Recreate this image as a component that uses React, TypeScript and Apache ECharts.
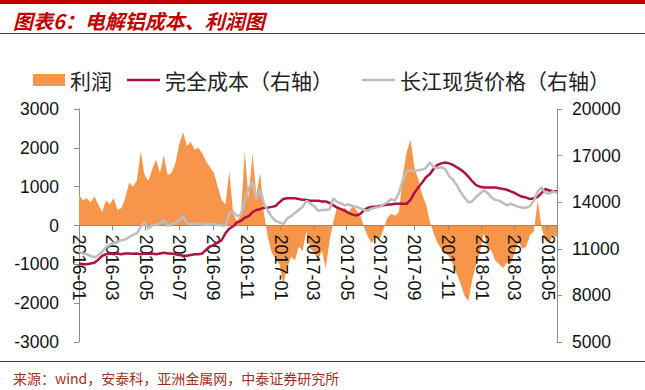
import React, { useEffect, useRef } from 'react';
import * as echarts from 'echarts';

const dates = [
  '2016-01-01','2016-01-08','2016-01-15','2016-01-22','2016-01-29','2016-02-05','2016-02-12','2016-02-19','2016-02-26',
  '2016-03-04','2016-03-11','2016-03-18','2016-03-25','2016-04-01','2016-04-08','2016-04-15','2016-04-22','2016-04-29',
  '2016-05-06','2016-05-13','2016-05-20','2016-05-27','2016-06-03','2016-06-10','2016-06-17','2016-06-24',
  '2016-07-01','2016-07-08','2016-07-15','2016-07-22','2016-07-29','2016-08-05','2016-08-12','2016-08-19','2016-08-26',
  '2016-09-02','2016-09-09','2016-09-16','2016-09-23','2016-09-30','2016-10-07','2016-10-14','2016-10-21','2016-10-28',
  '2016-11-04','2016-11-11','2016-11-18','2016-11-25','2016-12-02','2016-12-09','2016-12-16','2016-12-23','2016-12-30',
  '2017-01-06','2017-01-13','2017-01-20','2017-01-27','2017-02-03','2017-02-10','2017-02-17','2017-02-24',
  '2017-03-03','2017-03-10','2017-03-17','2017-03-24','2017-03-31','2017-04-07','2017-04-14','2017-04-21','2017-04-28',
  '2017-05-05','2017-05-12','2017-05-19','2017-05-26','2017-06-02','2017-06-09','2017-06-16','2017-06-23','2017-06-30',
  '2017-07-07','2017-07-14','2017-07-21','2017-07-28','2017-08-04','2017-08-11','2017-08-18','2017-08-25',
  '2017-09-01','2017-09-08','2017-09-15','2017-09-22','2017-09-29','2017-10-06','2017-10-13','2017-10-20','2017-10-27',
  '2017-11-03','2017-11-10','2017-11-17','2017-11-24','2017-12-01','2017-12-08','2017-12-15','2017-12-22','2017-12-29',
  '2018-01-05','2018-01-12','2018-01-19','2018-01-26','2018-02-02','2018-02-09','2018-02-16','2018-02-23',
  '2018-03-02','2018-03-09','2018-03-16','2018-03-23','2018-03-30','2018-04-06','2018-04-13','2018-04-20','2018-04-27',
  '2018-05-04','2018-05-11','2018-05-18'
];

// 利润 (left axis)
const profit = [
  800, 650, 700, 600, 750, 550, 350, 650, 550, 700,
  400, 450, 700, 1100, 1000, 1150, 1900, 1300, 1150, 1450,
  1700, 1350, 1800, 1300, 1350, 1600, 2100, 2400, 2050, 2150,
  1950, 2000, 1850, 1650, 1500, 1350, 1000, 650, 550, 1400,
  300, 100, 300, 1900, 700, 1850, 800, 1350, 300, -300,
  -700, -850, -1000, -1500, -1100, -800, -900, -550, -650, -150,
  -600, -700, -900, -650, -1100, -400, 100, 500, 400, 450,
  350, 500, 400, 250, -50, -300, -450, -250, -350, -100,
  200, 300, 250, 350, 1300, 1900, 2200, 1500, 1200, 800,
  550, 100, -200, -450, -600, -700, -800, -1000, -1250, -1500,
  -1800, -1950, -1400, -1000, -700, -200, -600, -650, -900, -1000,
  -1100, -950, -1000, -700, -400, -600, -550, -250, -150, 650,
  -50, -400, -450, -250, -300
];

// 完全成本 (right axis)
const cost = [
  10050, 10000, 10000, 10050, 10100, 10300, 10550, 10650, 10700, 10650,
  10700, 10650, 10700, 10700, 10680, 10700, 10650, 10700, 10680, 10700,
  10650, 10700, 10750, 10700, 10700, 10650, 10600, 10550, 10550, 10600,
  10650, 10650, 10700, 10950, 11150, 11250, 11400, 11550, 12000, 12300,
  12450, 12700, 12800, 13000, 13100, 13350, 13500, 13550, 13650, 13650,
  13700, 13750, 14000, 14200, 14250, 14250, 14250, 14200, 14150, 14150,
  14100, 14100, 14100, 14050, 14050, 13950, 13800, 13650, 13550, 13450,
  13300, 13200, 13150, 13250, 13500, 13650, 13700, 13700, 13750, 13800,
  13850, 13850, 13900, 13900, 13900, 13900, 14150, 14600, 14950, 15250,
  15600, 15800, 16150, 16400, 16500, 16550, 16500, 16400, 16250, 16100,
  15900, 15650, 15350, 15100, 15000, 14950, 14950, 14950, 14950, 14900,
  14850, 14800, 14700, 14600, 14450, 14350, 14300, 14200, 14250, 14350,
  14600, 14850, 14750, 14700, 14700
];

// 长江现货价格 (right axis)
const price = [
  10800, 10700, 10650, 10550, 10450, 10600, 10800, 11100, 11250, 11400,
  11450, 11550, 11600, 11750, 11900, 12000, 12400, 12700, 12300, 12500,
  12550, 12600, 12850, 12450, 12600, 12650, 12850, 13100, 12650, 12600,
  12600, 12650, 12600, 12550, 12600, 12600, 12550, 12500, 12500, 13300,
  13400, 13100, 13200, 14100, 14900, 15300, 14200, 14850, 13900, 13450,
  13050, 12800, 12700, 12600, 12950, 13100, 13300, 13500, 13700, 14100,
  13900, 13750, 13450, 13500, 13500, 13550, 14250, 14000, 13900, 13800,
  13850, 13750, 13700, 13600, 13500, 13450, 13600, 13650, 13700, 13850,
  14000, 14200, 14100, 14600, 15400, 16000, 16050, 16000, 16050, 16100,
  16200, 16550, 16250, 16200, 16250, 16150, 15700, 15450, 15100, 14650,
  14300, 14000, 14050, 14350, 14550, 14750, 14600, 14300, 14150, 14100,
  13950, 13800, 13900, 13800, 13700, 13650, 13650, 13750, 14100, 14700,
  14950, 14600, 14550, 14700, 14600
];

const xTickLabels = [
  '2016-01', '2016-03', '2016-05', '2016-07', '2016-09', '2016-11',
  '2017-01', '2017-03', '2017-05', '2017-07', '2017-09', '2017-11',
  '2018-01', '2018-03', '2018-05'
];
const rightTicks = [5000, 8000, 11000, 14000, 17000, 20000];

const SERIES_PROFIT = '利润';
const SERIES_COST = '完全成本（右轴）';
const SERIES_PRICE = '长江现货价格（右轴）';

function toTime(s: string): number {
  const parts = s.split('-').map(Number);
  return Date.UTC(parts[0], parts[1] - 1, parts[2] || 1);
}

const LATIN = '"Liberation Sans", Arial, sans-serif';
const CJK = '"Noto Sans CJK SC", "Liberation Sans", sans-serif';
const ORANGE = '#F7964A';
const RED = '#AE1240';
const GRAY = '#BDBDBD';

const GRID_TOP = 109;
const GRID_BOTTOM = 48;
const CHART_H = 390;

export default function App() {
  const ref = useRef<HTMLDivElement>(null);

  useEffect(() => {
    if (!ref.current) return;
    const chart = echarts.init(ref.current, null, { renderer: 'svg' });
    const xs = dates.map(toTime);
    const xTickValues = xTickLabels.map(toTime);
    // left axis is symmetric (-3000..3000): its zero lies at the middle of the grid
    const plotH = CHART_H - GRID_TOP - GRID_BOTTOM;
    const zeroOffset = -plotH / 2;
    const legendCommon = {
      top: 64,
      itemGap: 0,
      itemWidth: 33,
      textStyle: { fontSize: 21, color: '#222', fontFamily: CJK, lineHeight: 22 },
      selectedMode: false,
    };
    chart.setOption({
      animation: false,
      backgroundColor: '#fff',
      grid: { left: 79, right: 88, top: GRID_TOP, bottom: GRID_BOTTOM, containLabel: false, outerBoundsMode: 'none' },
      legend: [
        { ...legendCommon, left: 28, itemWidth: 32, itemHeight: 12, data: [{ name: SERIES_PROFIT, icon: 'rect' }] },
        { ...legendCommon, left: 122, itemHeight: 2.5, data: [{ name: SERIES_COST, icon: 'rect', itemStyle: { color: RED } }] },
        { ...legendCommon, left: 357, itemHeight: 2.5, data: [{ name: SERIES_PRICE, icon: 'rect', itemStyle: { color: GRAY } }] },
      ],
      xAxis: {
        type: 'value',
        min: xs[0],
        max: xs[xs.length - 1],
        position: 'bottom',
        offset: zeroOffset,
        z: 10,
        axisLine: { onZero: false, lineStyle: { color: '#8c8c8c', width: 1 } },
        axisTick: { show: true, length: 5, lineStyle: { color: '#8c8c8c' }, customValues: xTickValues },
        axisLabel: {
          rotate: -90,
          margin: 9,
          fontSize: 18,
          color: '#111',
          fontFamily: LATIN,
          customValues: xTickValues,
          formatter: (v: number) => {
            const d = new Date(v);
            return d.getUTCFullYear() + '-' + String(d.getUTCMonth() + 1).padStart(2, '0');
          },
          hideOverlap: false,
        },
        splitLine: { show: false },
      },
      yAxis: [
        {
          type: 'value',
          min: -3000,
          max: 3000,
          interval: 1000,
          axisLine: { show: true, onZero: false, lineStyle: { color: '#8c8c8c' } },
          axisTick: { show: true, length: 5, lineStyle: { color: '#8c8c8c' } },
          axisLabel: { fontSize: 17.5, color: '#111', fontFamily: LATIN, margin: 20, formatter: (v: number) => String(v) },
          splitLine: { show: false },
        },
        {
          type: 'value',
          min: 5000,
          max: 20000,
          position: 'right',
          axisLine: { show: true, onZero: false, lineStyle: { color: '#8c8c8c' } },
          axisTick: { show: true, length: 5, lineStyle: { color: '#8c8c8c' }, customValues: rightTicks },
          axisLabel: {
            fontSize: 17.5, color: '#111', fontFamily: LATIN, margin: 15, customValues: rightTicks,
            formatter: (v: number) => String(v),
          },
          splitLine: { show: false },
        },
      ],
      series: [
        {
          name: SERIES_PROFIT,
          type: 'line',
          yAxisIndex: 0,
          symbol: 'none',
          data: xs.map((t, i) => [t, profit[i]]),
          lineStyle: { width: 0 },
          itemStyle: { color: ORANGE },
          areaStyle: { color: ORANGE, opacity: 1 },
        },
        {
          name: SERIES_COST,
          type: 'line',
          yAxisIndex: 1,
          symbol: 'none',
          z: 12,
          data: xs.map((t, i) => [t, cost[i]]),
          lineStyle: { width: 2.5, color: RED },
          itemStyle: { color: RED },
        },
        {
          name: SERIES_PRICE,
          type: 'line',
          yAxisIndex: 1,
          symbol: 'none',
          z: 13,
          data: xs.map((t, i) => [t, price[i]]),
          lineStyle: { width: 2.5, color: GRAY },
          itemStyle: { color: GRAY },
        },
      ],
      graphic: [
        { type: 'rect', shape: { x: 0, y: 0, width: 645, height: 4 }, style: { fill: '#C00000' } },
        {
          type: 'text', x: 13, y: 20,
          style: {
            text: '图表6：电解铝成本、利润图',
            font: 'italic bold 20px "Noto Sans CJK SC", sans-serif',
            fill: '#C00000', verticalAlign: 'middle',
          },
        },
        { type: 'line', shape: { x1: 0, y1: 33.5, x2: 645, y2: 33.5 }, style: { stroke: '#8B2030', lineWidth: 1 } },
        { type: 'line', shape: { x1: 0, y1: 361.5, x2: 645, y2: 361.5 }, style: { stroke: '#7B1A2A', lineWidth: 1.2 } },
        {
          type: 'text', x: 13, y: 378,
          style: {
            text: '来源：wind，安泰科，亚洲金属网，中泰证券研究所', fontSize: 14,
            fontFamily: CJK, fill: '#A0301E', verticalAlign: 'middle',
          },
        },
      ],
    });
    return () => chart.dispose();
  }, []);

  return (
    <div
      ref={ref}
      style={{ position: 'absolute', left: 0, top: 0, width: 645, height: 390 }}
    />
  );
}
